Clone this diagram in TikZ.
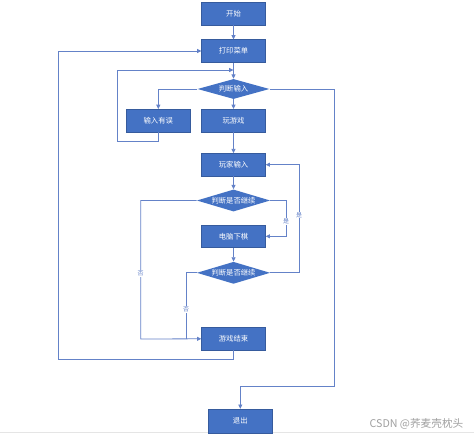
\documentclass[tikz,border=0pt]{standalone}
\usepackage{fontspec}
\newfontfamily\cjk{Noto Sans CJK SC}
\usetikzlibrary{shapes.geometric,arrows.meta}
\definecolor{boxblue}{RGB}{68,114,196}
\definecolor{lineblue}{RGB}{100,130,200}
\definecolor{wmgray}{RGB}{160,160,160}
\begin{document}
\begin{tikzpicture}[x=0.75pt,y=-0.75pt,
  proc/.style={rectangle,fill=boxblue,draw=boxblue!80!black,line width=0.3pt,text=white,
    minimum width=48pt,minimum height=17pt,inner sep=0pt,font=\cjk\fontsize{5.5}{6}\selectfont},
  dec/.style={diamond,fill=boxblue,text=white,aspect=3.4,inner sep=0pt,
    minimum width=55pt,minimum height=16.5pt,font=\cjk\fontsize{5.5}{6}\selectfont},
  conn/.style={draw=lineblue,line width=0.6pt},
  arr/.style={conn,-{Triangle[length=3.2pt,width=3pt]}},
  lbl/.style={fill=white,inner sep=0.6pt,text=lineblue,font=\cjk\fontsize{4.5}{5}\selectfont}]
\useasboundingbox (0,0) rectangle (474,435);
\fill[white] (0,0) rectangle (474,435);
\draw[gray!20,line width=0.8pt] (0,432.5) -- (474,432.5);

\node[proc] (start) at (233.5,13.5) {开始};
\node[proc] (menu) at (233.5,51) {打印菜单};
\node[dec,minimum width=54pt,minimum height=15pt] (judge) at (233.5,89) {判断输入};
\node[proc] (err) at (158.3,120.5) {输入有误};
\node[proc] (play) at (233.5,120.5) {玩游戏};
\node[proc] (pin) at (233.5,164.7) {玩家输入};
\node[dec] (d1) at (233.5,200.5) {判断是否继续};
\node[proc] (pc) at (233.5,236.3) {电脑下棋};
\node[dec] (d2) at (233.5,272.8) {判断是否继续};
\node[proc] (over) at (233.5,338.8) {游戏结束};
\node[proc,minimum height=18pt] (exit) at (240.3,421) {退出};

\coordinate (j1) at (233.5,70);

\draw[arr] (start) -- (menu);
\draw[arr] (menu) -- (judge);
\draw[arr] (judge) -- (play);
\draw[arr] (judge.west) -| (err.north);
\draw[arr] (err.south) -- (158.3,141) -- (117.3,141) -- (117.3,70) -- (j1);
\draw[arr] (judge.east) -- (334.3,89) -- (334.3,386.7) -- (240.3,386.7) -- (exit.north);
\draw[arr] (play) -- (pin);
\draw[arr] (pin) -- (d1);
\draw[arr] (d1.east) -- (286,200.5) -- (286,236.3) -- (pc.east);
\node[lbl] (y1) at (286,221.7) {是};
\draw[arr] (pc) -- (d2);
\draw[arr] (d2.east) -- (299,272.8) -- (299,164.7) -- (pin.east);
\node[lbl] (y2) at (299,215) {是};
\draw[arr] (d1.west) -- (140.7,200.5) -- (140.7,339) -- (over.west);
\node[lbl] (n1) at (140.7,273.3) {否};
\draw[conn] (d2.west) -- (186,272.8) -- (186,339);
\node[lbl] (n2) at (186,309.3) {否};
\draw[arr] (over.south) -- (233.5,359.3) -- (58.3,359.3) -- (58.3,51) -- (menu.west);

\node[text=wmgray,font=\cjk\fontsize{8}{9}\selectfont,inner sep=0pt] (wm) at (416.5,424) {CSDN @荞麦壳枕头};
\end{tikzpicture}
\end{document}
